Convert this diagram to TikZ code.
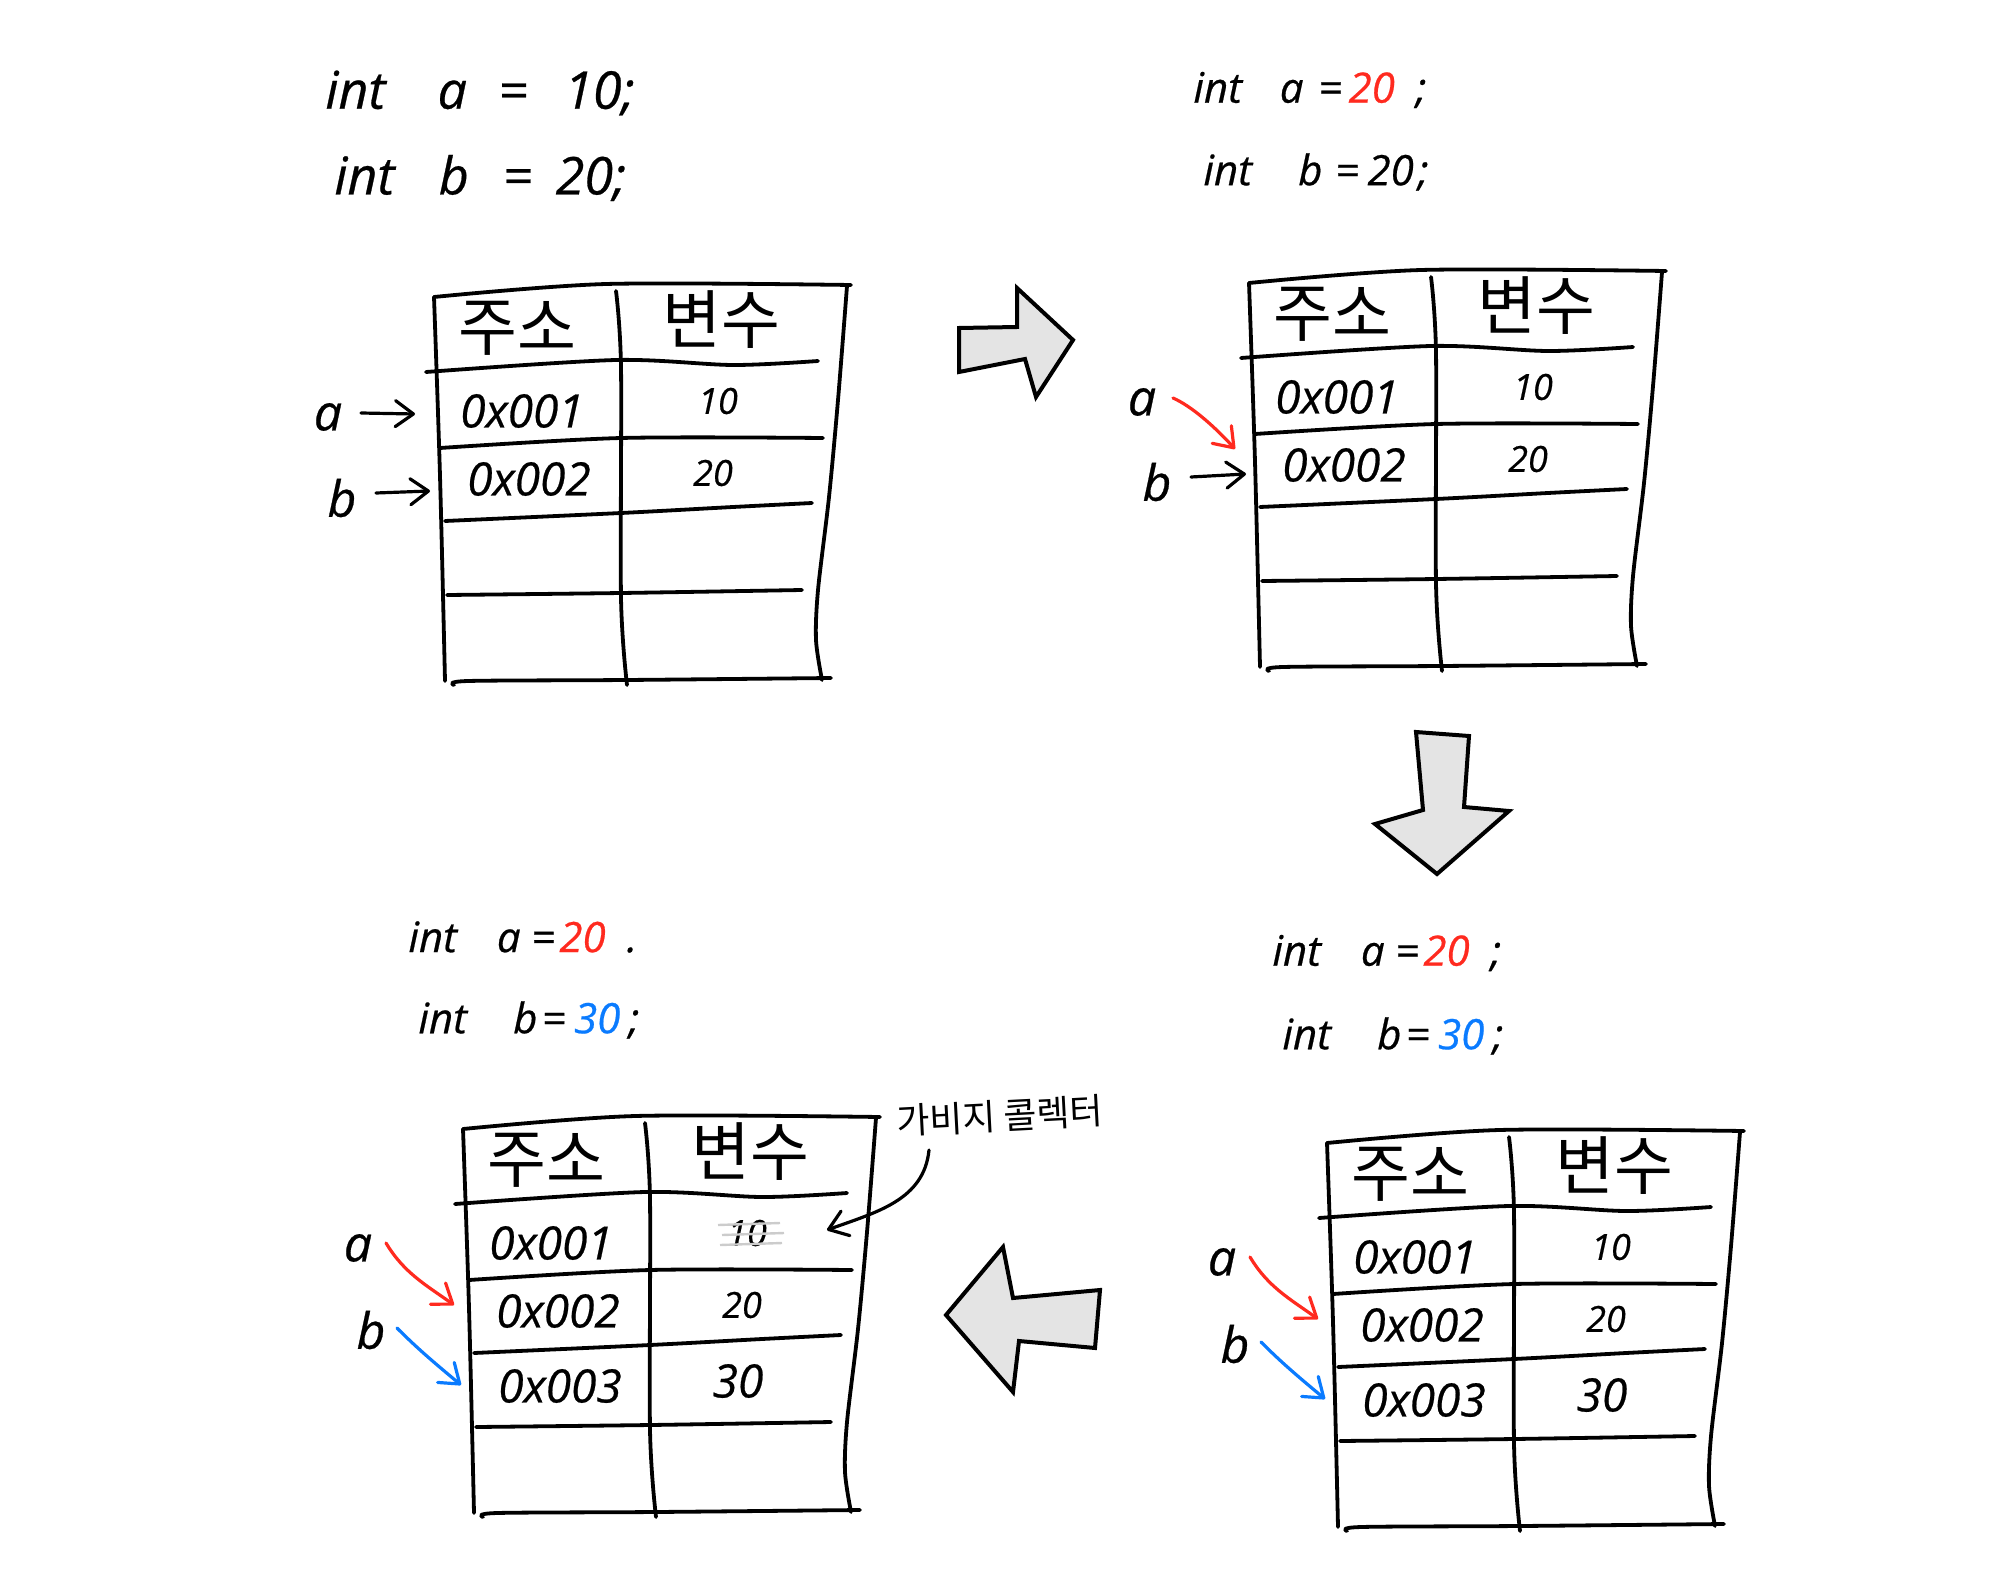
\documentclass[tikz,border=0pt]{standalone}
\usepackage{fontspec}
\usepackage{xcolor}
\usetikzlibrary{arrows.meta}
\setmainfont{Open Sans}[ItalicFeatures={FakeBold=0.5}]
\newfontfamily\krfont{Noto Sans CJK KR}
\definecolor{penred}{HTML}{FF2A1F}
\definecolor{penblue}{HTML}{0A7BFF}
\definecolor{blockgray}{HTML}{E4E4E4}
\begin{document}
\begin{tikzpicture}[
    x=0.5pt,y=-0.5pt,
    pen/.style={line width=1.9pt,line cap=round,line join=round},
    ptr/.style={pen,line width=1.6pt,-{Straight Barb[length=9pt,width=13pt,round]}},
    redptr/.style={ptr,penred},
    blueptr/.style={ptr,penblue},
    block/.style={line width=2pt,line join=miter,fill=blockgray},
    codeline/.style={anchor=west,inner sep=0pt,font=\itshape\fontsize{26}{26}\selectfont},
    codesmall/.style={codeline,font=\itshape\fontsize{21}{21}\selectfont},
    cell/.style={inner sep=0pt,font=\itshape\fontsize{23}{23}\selectfont},
    valcell/.style={inner sep=0pt,font=\itshape\fontsize{18}{18}\selectfont},
    bigcell/.style={inner sep=0pt,font=\itshape\fontsize{23}{23}\selectfont},
    headcell/.style={inner sep=0pt,font=\krfont\fontsize{32}{32}\selectfont},
    varlabel/.style={inner sep=1pt,font=\itshape\fontsize{25}{25}\selectfont},
    memtable/.pic={
        \draw[pen] plot[smooth] coordinates {(434,297) (606,284) (851,285)};
        \draw[pen] plot[smooth] coordinates {(434,297) (440,476) (445,681)};
        \draw[pen] plot[smooth] coordinates {(616,291) (621,367) (621,598) (627,685)};
        \draw[pen] plot[smooth] coordinates {(847,286) (838,400) (829,497) (818,590) (816,640) (822,680)};
        \draw[pen] plot[smooth] coordinates {(426,372) (616,360) (733,365) (818,361)};
        \draw[pen] plot[smooth] coordinates {(440,448) (621,438) (823,438)};
        \draw[pen] plot[smooth] coordinates {(445,521) (621,513) (733,507) (812,503)};
        \draw[pen] plot[smooth] coordinates {(447,595) (621,593) (802,590)};
        \draw[pen] plot[smooth] coordinates {(454,685) (468,681) (626,680) (831,678)};
        \node[headcell] (-addr) at (517,328) {주소};
        \node[headcell] (-var) at (721,320) {변수};
        \node[cell] (-addra) at (522,411) {0x001};
        \node[valcell] (-vala) at (718,401) {10};
        \node[cell] (-addrb) at (529,479) {0x002};
        \node[valcell] (-valb) at (713,473) {20};
    },
]
\useasboundingbox (0,0) rectangle (2000,1577);
% top left
\node[codeline] (c1a) at (325,93) {int\hspace{1em}a\hspace{.6em}=\hspace{.7em}10;};
\node[codeline] (c1b) at (334,178) {int\hspace{.85em}b\hspace{.65em}=\hspace{.45em}20;};
\pic (t1) at (0,0) {memtable};
\node[varlabel] (t1-a) at (328,417) {a};
\node[varlabel] (t1-b) at (342,498) {b};
\coordinate (t1-sa) at (361,413);
\coordinate (t1-pa) at (415,414);
\coordinate (t1-sb) at (376,493);
\coordinate (t1-pb) at (430,491);
\draw[ptr] (t1-sa) -- (t1-pa);
\draw[ptr] (t1-sb) -- (t1-pb);
% top right
\node[codesmall] (c2a) at (1193,90) {int\hspace{.9em}a\hspace{.35em}=\hspace{.15em}\textcolor{penred}{20}\hspace{.5em};};
\node[codesmall] (c2b) at (1203,172) {int\hspace{1.1em}b\hspace{.3em}=\hspace{.2em}20\hspace{.1em};};
\pic (t2) at (815,-14) {memtable};
\node[varlabel] (t2-a) at (1142,402) {a};
\node[varlabel] (t2-b) at (1157,482) {b};
\coordinate (t2-sa) at (1173,398);
\coordinate (t2-pa) at (1235,449);
\coordinate (t2-sb) at (1191,477);
\coordinate (t2-pb) at (1246,474);
\draw[redptr] (t2-sa) .. controls +(18,8) and +(-22,-24) .. (t2-pa);
\draw[ptr] (t2-sb) -- (t2-pb);
% bottom right
\node[codesmall] (c4a) at (1272,953) {int\hspace{.95em}a\hspace{.25em}=\hspace{.1em}\textcolor{penred}{20}\hspace{.5em};};
\node[codesmall] (c4b) at (1282,1036) {int\hspace{1.1em}b\hspace{.1em}=\hspace{.2em}\textcolor{penblue}{30}\hspace{.2em};};
\pic (t4) at (893,846) {memtable};
\node[cell] (t4-addrc) at (1424,1400) {0x003};
\node[bigcell] (t4-valc) at (1602,1395) {30};
\node[varlabel] (t4-a) at (1222,1262) {a};
\node[varlabel] (t4-b) at (1235,1344) {b};
\coordinate (t4-sa) at (1250,1257);
\coordinate (t4-pa) at (1318,1319);
\coordinate (t4-sb) at (1261,1342);
\coordinate (t4-pb) at (1325,1399);
\draw[redptr] (t4-sa) .. controls +(18,30) and +(-28,-20) .. (t4-pa);
\draw[blueptr] (t4-sb) .. controls +(20,20) and +(-30,-25) .. (t4-pb);
% bottom left
\node[codesmall] (c3a) at (408,937) {int\hspace{.95em}a\hspace{.25em}=\hspace{.1em}\textcolor{penred}{20}\hspace{.5em}.};
\node[codesmall] (c3b) at (418,1020) {int\hspace{1.1em}b\hspace{.1em}=\hspace{.2em}\textcolor{penblue}{30}\hspace{.2em};};
\pic (t3) at (29,832) {memtable};
\node[cell] (t3-addrc) at (560,1386) {0x003};
\node[bigcell] (t3-valc) at (738,1381) {30};
\node[varlabel] (t3-a) at (358,1248) {a};
\node[varlabel] (t3-b) at (371,1330) {b};
\coordinate (t3-sa) at (386,1243);
\coordinate (t3-pa) at (454,1305);
\coordinate (t3-sb) at (397,1328);
\coordinate (t3-pb) at (461,1385);
\draw[redptr] (t3-sa) .. controls +(18,30) and +(-28,-20) .. (t3-pa);
\draw[blueptr] (t3-sb) .. controls +(20,20) and +(-30,-25) .. (t3-pb);
% erased value
\foreach \liney/\linex in {1225/718,1235/722,1245/720}
    \draw[line width=1.2pt,black!20] (\linex,\liney) -- ++(62,-2);
\node[inner sep=0pt,rotate=3,font=\krfont\fontsize{18}{18}\selectfont] (gc) at (1000,1116) {가비지 콜렉터};
\coordinate (gc-s) at (929,1150);
\coordinate (gc-p) at (827,1230);
\draw[ptr] (gc-s) .. controls +(-5,50) and +(50,-18) .. (gc-p);
% block arrows
\draw[block] (959,328) -- (1017,327) -- (1017,288) -- (1073,340) -- (1036,397) -- (1025,359) -- (959,372) -- cycle;
\draw[block] (1416,732) -- (1469,736) -- (1464,807) -- (1509,811) -- (1437,874) -- (1375,824) -- (1423,810) -- cycle;
\draw[block] (1003,1247) -- (1013,1298) -- (1100,1290) -- (1095,1348) -- (1019,1341) -- (1013,1392) -- (946,1315) -- cycle;
\end{tikzpicture}
\end{document}
